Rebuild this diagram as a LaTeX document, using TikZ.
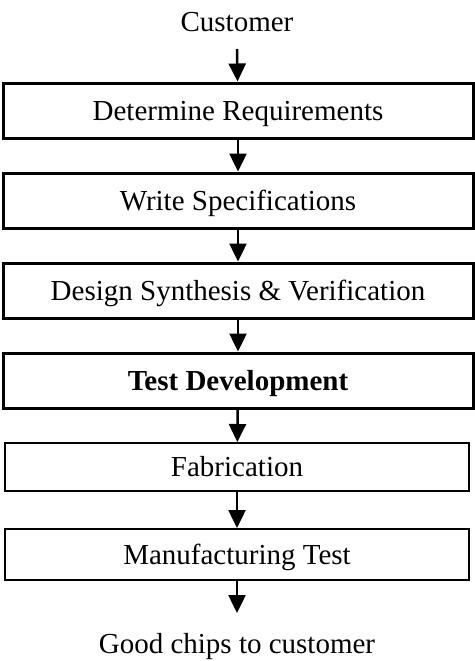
\documentclass[tikz,border=0pt]{standalone}
\usepackage{fontspec}
\setmainfont{Liberation Serif}
\usetikzlibrary{arrows.meta}
\begin{document}
\begin{tikzpicture}[x=1pt,y=-1pt,
  lbl/.style={font=\fontsize{29}{34}\selectfont, inner sep=0pt},
  boxtext/.style={inner sep=0pt, text height=19pt, text depth=0pt, font=\fontsize{29}{34}\selectfont},
  thickbox/.style={draw, boxtext, line width=3pt, minimum width=470pt, minimum height=55pt},
  thinbox/.style={draw, boxtext, line width=2pt, minimum width=464pt},
  arr/.style={line width=2.5pt, -{Triangle[length=18pt,width=17pt]}}]
\useasboundingbox (0,0) rectangle (474,661);
\node[lbl, anchor=base] (cust) at (237,32) {Customer};
\node[thickbox] (b1) at (238,110.5) {Determine Requirements};
\node[thickbox] (b2) at (238,200.5) {Write Specifications};
\node[thickbox] (b3) at (238,290.5) {Design Synthesis \& Verification};
\node[thickbox] (b4) at (238,380.5) {\bfseries Test Development};
\node[thinbox, minimum height=48pt] (b5) at (237,467) {Fabrication};
\node[thinbox, minimum height=51pt] (b6) at (237,554.5) {Manufacturing Test};
\coordinate (e) at (237,613);
\node[lbl, anchor=base] (good) at (237,653) {Good chips to customer};
\draw[arr] ([yshift=-17pt]cust.base) -- (b1);
\draw[arr] (b1) -- (b2);
\draw[arr] (b2) -- (b3);
\draw[arr] (b3) -- (b4);
\draw[arr] (b4) -- (b5);
\draw[arr] (b5) -- (b6);
\draw[arr] (b6) -- (e);
\end{tikzpicture}
\end{document}
